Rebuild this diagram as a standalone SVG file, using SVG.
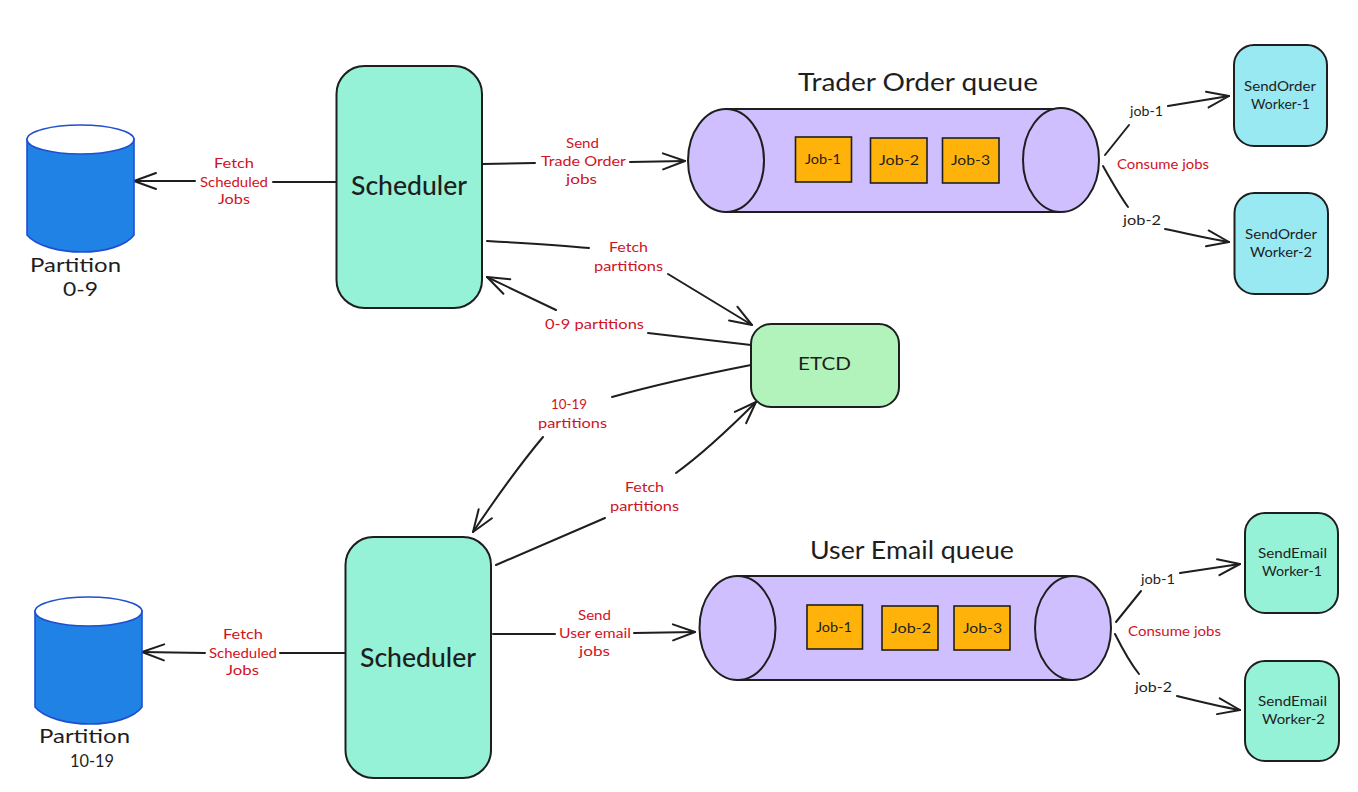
<svg xmlns="http://www.w3.org/2000/svg" width="1358" height="792" viewBox="0 0 1358 792">
<style>
text{font-family:"Lato","Open Sans","Noto Sans",sans-serif;fill:#1e1e1e}
.r{fill:#d0131f;font-size:14px}
.k{font-size:14px}
.t{font-size:25px}
.p{font-size:20px}
.s{font-size:27px;font-weight:500}
.box{stroke:#1e1e1e;stroke-width:2}
.job{fill:#ffb30a;stroke:#1e1e1e;stroke-width:1.6}
.q{fill:#d0bfff;stroke:#1e1e1e;stroke-width:2}
.l{fill:none;stroke:#1e1e1e;stroke-width:2;stroke-linecap:round}
.a{marker-end:url(#arrow)}
.cy{fill:#1f82e4;stroke:#1e4fd0;stroke-width:1.6}
.ct{fill:#fff;stroke:#1e4fd0;stroke-width:1.6}
</style>
<defs>
<marker id="arrow" markerUnits="userSpaceOnUse" markerWidth="30" markerHeight="24" viewBox="-26 -12 30 24" refX="0" refY="0" orient="auto">
<path d="M-22,-8 L0,0 L-22,8" fill="none" stroke="#1e1e1e" stroke-width="2" stroke-linecap="round" stroke-linejoin="round"/>
</marker>
</defs>
<rect width="1358" height="792" fill="#fff"/>

<g id="connectors">
<path class="l" d="M336,182 L273,182"/><path class="l a" d="M195,181 L134,181"/>
<path class="l" d="M483,164 L535,163"/><path class="l a" d="M630,162 L685,161"/>
<path class="l" d="M487,241 C525,243 560,245 589,248"/><path class="l a" d="M668,274 L752,325"/>
<path class="l" d="M751,345 L648,333"/><path class="l a" d="M556,310 L487,277"/>
<path class="l" d="M751,365 C700,375 655,385 612,397"/><path class="l a" d="M543,437 C522,462 500,492 473,532"/>
<path class="l" d="M496,565 L605,518"/><path class="l a" d="M676,473 C705,452 730,428 756,402"/>
<path class="l" d="M345,653 L280,653"/><path class="l a" d="M205,653 L142,652"/>
<path class="l" d="M493,634 L555,634"/><path class="l a" d="M634,633 L695,632"/>
<path class="l" d="M1105,155 L1129,125"/><path class="l a" d="M1168,106 L1229,96"/>
<path class="l" d="M1103,166 C1112,182 1120,196 1128,207"/><path class="l a" d="M1165,229 C1185,233 1205,238 1229,242"/>
<path class="l" d="M1116,622 L1141,591"/><path class="l a" d="M1180,573 L1240,564"/>
<path class="l" d="M1115,634 C1123,650 1131,664 1139,674"/><path class="l a" d="M1177,696 C1197,701 1217,706 1240,710"/>
</g>

<g id="connector-labels">
<text class="r" x="214" y="168" textLength="40" lengthAdjust="spacingAndGlyphs">Fetch</text>
<text class="r" x="200" y="187" textLength="68" lengthAdjust="spacingAndGlyphs">Scheduled</text>
<text class="r" x="218" y="204" textLength="32" lengthAdjust="spacingAndGlyphs">Jobs</text>
<text class="r" x="223" y="639" textLength="40" lengthAdjust="spacingAndGlyphs">Fetch</text>
<text class="r" x="209" y="658" textLength="68" lengthAdjust="spacingAndGlyphs">Scheduled</text>
<text class="r" x="226" y="675" textLength="33" lengthAdjust="spacingAndGlyphs">Jobs</text>
<text class="r" x="566" y="148" textLength="33" lengthAdjust="spacingAndGlyphs">Send</text>
<text class="r" x="541" y="166" textLength="85" lengthAdjust="spacingAndGlyphs">Trade Order</text>
<text class="r" x="566" y="184" textLength="31" lengthAdjust="spacingAndGlyphs">jobs</text>
<text class="r" x="578" y="620" textLength="33" lengthAdjust="spacingAndGlyphs">Send</text>
<text class="r" x="559" y="638" textLength="72" lengthAdjust="spacingAndGlyphs">User email</text>
<text class="r" x="579" y="656" textLength="31" lengthAdjust="spacingAndGlyphs">jobs</text>
<text class="r" x="609" y="252" textLength="39" lengthAdjust="spacingAndGlyphs">Fetch</text>
<text class="r" x="594" y="271" textLength="69" lengthAdjust="spacingAndGlyphs">partitions</text>
<text class="r" x="545" y="329" textLength="99" lengthAdjust="spacingAndGlyphs">0-9 partitions</text>
<text class="r" x="551" y="409" textLength="36" lengthAdjust="spacingAndGlyphs">10-19</text>
<text class="r" x="538" y="428" textLength="69" lengthAdjust="spacingAndGlyphs">partitions</text>
<text class="r" x="625" y="492" textLength="39" lengthAdjust="spacingAndGlyphs">Fetch</text>
<text class="r" x="610" y="511" textLength="69" lengthAdjust="spacingAndGlyphs">partitions</text>
<text class="r" x="1117" y="169" textLength="92" lengthAdjust="spacingAndGlyphs">Consume jobs</text>
<text class="r" x="1128" y="636" textLength="93" lengthAdjust="spacingAndGlyphs">Consume jobs</text>
<text class="k" x="1130" y="116" textLength="33" lengthAdjust="spacingAndGlyphs">job-1</text>
<text class="k" x="1123" y="225" textLength="38" lengthAdjust="spacingAndGlyphs">job-2</text>
<text class="k" x="1141" y="584" textLength="34" lengthAdjust="spacingAndGlyphs">job-1</text>
<text class="k" x="1135" y="692" textLength="37" lengthAdjust="spacingAndGlyphs">job-2</text>
</g>

<g id="db-1">
<path class="cy" d="M27,139 L27,235 C36,246 60,252 82,252 C104,252 126,246 134,235 L134,139 Z"/>
<ellipse class="ct" cx="80.500" cy="139.500" rx="53.500" ry="14.500"/>
<text class="p" x="30" y="272" textLength="91" lengthAdjust="spacingAndGlyphs">Partition</text>
<text class="p" x="63" y="296" textLength="35" lengthAdjust="spacingAndGlyphs">0-9</text>
</g>
<g id="db-2">
<path class="cy" d="M35,611 L35,707 C44,718 68,724 90,724 C112,724 134,718 142,707 L142,611 Z"/>
<ellipse class="ct" cx="88.500" cy="611.500" rx="53.500" ry="14.500"/>
<text class="p" x="39" y="743" textLength="91" lengthAdjust="spacingAndGlyphs">Partition</text>
<text x="70" y="767" style="font-size:18px" textLength="44" lengthAdjust="spacingAndGlyphs">10-19</text>
</g>

<g id="scheduler-1">
<rect class="box" x="336.500" y="66" width="145.500" height="242" rx="28" fill="#96f2d7"/>
<text class="s" x="351" y="195" textLength="116" lengthAdjust="spacingAndGlyphs">Scheduler</text>
</g>
<g id="scheduler-2">
<rect class="box" x="345.500" y="537" width="145.500" height="241" rx="28" fill="#96f2d7"/>
<text class="s" x="360" y="667" textLength="116" lengthAdjust="spacingAndGlyphs">Scheduler</text>
</g>

<g id="etcd">
<rect class="box" x="751" y="324" width="148" height="83" rx="20" fill="#b2f2bb"/>
<text x="798" y="370" font-size="17" textLength="53" lengthAdjust="spacingAndGlyphs">ETCD</text>
</g>

<g id="queue-trader">
<text class="t" x="798" y="91" textLength="240" lengthAdjust="spacingAndGlyphs">Trader Order queue</text>
<path class="q" d="M726,109 L1061,109 L1061,212 L726,212 Z"/>
<ellipse class="q" cx="726" cy="160.500" rx="38" ry="51.500"/>
<ellipse class="q" cx="1061" cy="160" rx="38" ry="52"/>
<rect class="job" x="795.500" y="137" width="56" height="45"/>
<text class="k" x="805" y="164" textLength="36" lengthAdjust="spacingAndGlyphs">Job-1</text>
<rect class="job" x="870.500" y="138" width="56.500" height="45"/>
<text class="k" x="879" y="165" textLength="40" lengthAdjust="spacingAndGlyphs">Job-2</text>
<rect class="job" x="942.500" y="138" width="56.500" height="45"/>
<text class="k" x="951" y="165" textLength="39" lengthAdjust="spacingAndGlyphs">Job-3</text>
</g>
<g id="queue-email">
<text class="t" x="810" y="559" textLength="204" lengthAdjust="spacingAndGlyphs">User Email queue</text>
<path class="q" d="M737,576 L1073,576 L1073,680 L737,680 Z"/>
<ellipse class="q" cx="737.500" cy="628" rx="38" ry="52"/>
<ellipse class="q" cx="1073" cy="628" rx="38" ry="52"/>
<rect class="job" x="807" y="605" width="55.500" height="44"/>
<text class="k" x="816" y="632" textLength="36" lengthAdjust="spacingAndGlyphs">Job-1</text>
<rect class="job" x="882" y="606" width="56" height="44"/>
<text class="k" x="891" y="633" textLength="40" lengthAdjust="spacingAndGlyphs">Job-2</text>
<rect class="job" x="954" y="606" width="56" height="44"/>
<text class="k" x="963" y="633" textLength="39" lengthAdjust="spacingAndGlyphs">Job-3</text>
</g>

<g id="worker-order-1">
<rect class="box" x="1234" y="45" width="93" height="101" rx="20" fill="#99e9f2"/>
<text class="k" x="1244" y="91" textLength="72" lengthAdjust="spacingAndGlyphs">SendOrder</text>
<text class="k" x="1251" y="109" textLength="59" lengthAdjust="spacingAndGlyphs">Worker-1</text>
</g>
<g id="worker-order-2">
<rect class="box" x="1234.500" y="193" width="93.500" height="101" rx="20" fill="#99e9f2"/>
<text class="k" x="1245" y="239" textLength="72" lengthAdjust="spacingAndGlyphs">SendOrder</text>
<text class="k" x="1250" y="257" textLength="62" lengthAdjust="spacingAndGlyphs">Worker-2</text>
</g>
<g id="worker-email-1">
<rect class="box" x="1245" y="513" width="93" height="100" rx="20" fill="#96f2d7"/>
<text class="k" x="1258" y="558" textLength="69" lengthAdjust="spacingAndGlyphs">SendEmail</text>
<text class="k" x="1262" y="576" textLength="60" lengthAdjust="spacingAndGlyphs">Worker-1</text>
</g>
<g id="worker-email-2">
<rect class="box" x="1245" y="661" width="94" height="100" rx="20" fill="#96f2d7"/>
<text class="k" x="1258" y="706" textLength="69" lengthAdjust="spacingAndGlyphs">SendEmail</text>
<text class="k" x="1262" y="724" textLength="63" lengthAdjust="spacingAndGlyphs">Worker-2</text>
</g>
</svg>
